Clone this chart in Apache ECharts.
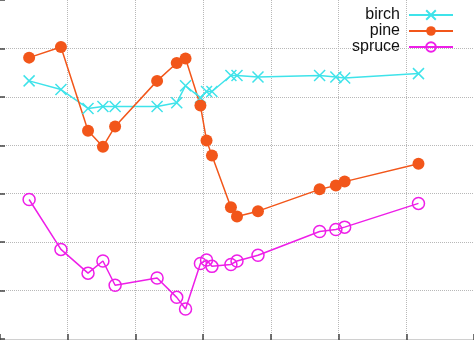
<!DOCTYPE html>
<html>
<head>
<meta charset="UTF-8">
<title>trees</title>
<script src="https://cdn.jsdelivr.net/npm/echarts@6/dist/echarts.min.js"></script>
<style>
  body { margin: 0; padding: 0; background: #fff; }
  #app { width: 474px; height: 340px; }
</style>
</head>
<body>
<div id="app"></div>
<script>
  // x positions shared by all three series
  var xs = [0.43, 0.90, 1.30, 1.52, 1.70, 2.32, 2.61, 2.74, 2.96, 3.05, 3.13, 3.41, 3.50, 3.81, 4.72, 4.96, 5.09, 6.18];
  var birch = [5.33, 5.15, 4.76, 4.80, 4.80, 4.80, 4.88, 5.23, 4.98, 5.11, 5.11, 5.44, 5.44, 5.41, 5.44, 5.41, 5.39, 5.48];
  var pine = [5.81, 6.03, 4.30, 3.97, 4.39, 5.33, 5.70, 5.79, 4.82, 4.10, 3.79, 2.72, 2.53, 2.64, 3.09, 3.17, 3.25, 3.62];
  var spruce = [2.88, 1.85, 1.36, 1.61, 1.11, 1.26, 0.86, 0.62, 1.56, 1.63, 1.50, 1.54, 1.61, 1.73, 2.22, 2.26, 2.31, 2.80];

  var cBirch = '#3fe3ea', cPine = '#f2561a', cSpruce = '#ee1ee8';

  function pairs(ys) {
    return xs.map(function (x, i) { return [x, ys[i]]; });
  }

  var tick = { show: true, inside: true, length: 5, lineStyle: { color: '#444', width: 1.5 } };
  var grid = { show: true, showMinLine: false, showMaxLine: false, lineStyle: { color: '#b8b8b8', type: 'dotted', width: 1 } };

  function xAx(pos, split) {
    return {
      type: 'value', position: pos, min: 0, max: 7, interval: 1,
      axisLabel: { show: false }, axisTick: tick,
      axisLine: { show: pos === 'bottom', lineStyle: { color: '#d0d0d0', width: 1 } },
      splitLine: split ? grid : { show: false }
    };
  }
  function yAx(pos, split) {
    return {
      type: 'value', position: pos, min: 0, max: 7, interval: 1,
      axisLabel: { show: false }, axisTick: tick,
      axisLine: { show: false },
      splitLine: split ? grid : { show: false }
    };
  }

  function leg(name, top) {
    return {
      data: [name], right: 20, top: top, align: 'right',
      itemWidth: 44, itemHeight: 12, itemGap: 0, padding: 0,
      textStyle: { fontFamily: 'Liberation Sans', fontSize: 16, color: '#111', padding: [0, 4, 0, 0] }
    };
  }

  var chart = echarts.init(document.getElementById('app'), null, { renderer: 'canvas' });
  chart.setOption({
    animation: false,
    grid: { left: -1, right: -1, top: -1, bottom: 1 },
    legend: [leg('birch', 7), leg('pine', 23), leg('spruce', 39)],
    xAxis: [xAx('bottom', true), xAx('top', false)],
    yAxis: [yAx('left', true), yAx('right', false)],
    series: [
      {
        name: 'birch', type: 'line', data: pairs(birch),
        symbol: 'path://M0,0L10,10M10,0L0,10', symbolSize: 11,
        lineStyle: { color: cBirch, width: 1.5 },
        itemStyle: { color: cBirch, borderColor: cBirch, borderWidth: 1.5 }
      },
      {
        name: 'pine', type: 'line', data: pairs(pine),
        symbol: 'circle', symbolSize: 12,
        lineStyle: { color: cPine, width: 1.5 },
        itemStyle: { color: cPine }
      },
      {
        name: 'spruce', type: 'line', data: pairs(spruce),
        symbol: 'circle', symbolSize: 12,
        lineStyle: { color: cSpruce, width: 1.5 },
        itemStyle: { color: 'rgba(0,0,0,0)', borderColor: cSpruce, borderWidth: 1.5 }
      }
    ]
  });
</script>
</body>
</html>
